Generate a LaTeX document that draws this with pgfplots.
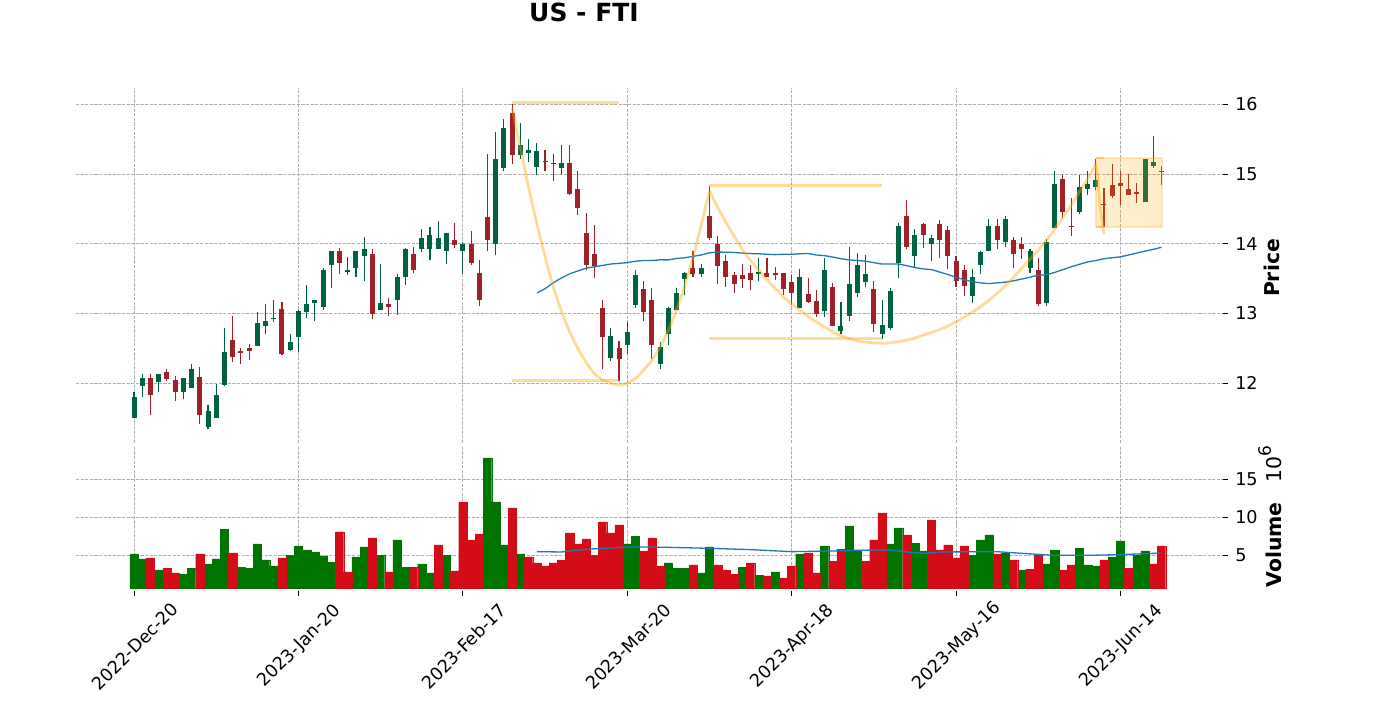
\documentclass[border=0pt]{standalone}
\usepackage{pgfplots}
\usepackage{pgfplotstable}
\usepackage{fontspec}
\setmainfont{DejaVu Sans}
\pgfplotsset{compat=1.18}
\definecolor{cup}{HTML}{A02128}
\definecolor{cdn}{HTML}{006340}
\definecolor{vup}{HTML}{007400}
\definecolor{vdn}{HTML}{D30C18}
\definecolor{ma}{HTML}{1F77B4}
\definecolor{gridc}{HTML}{B0B0B0}
\definecolor{patc}{HTML}{FFA500}
% green candles: i open high low close
\pgfplotstableread{
i open high low close
0 11.50 11.87 11.50 11.80
1 11.96 12.14 11.81 12.08
3 12.02 12.13 11.87 12.13
6 11.88 12.08 11.77 12.08
7 11.93 12.27 11.93 12.20
9 11.38 11.69 11.34 11.60
10 11.50 11.99 11.50 11.83
11 11.98 12.79 11.96 12.45
15 12.53 13.02 12.53 12.86
16 12.82 13.14 12.70 12.89
17 12.92 13.20 12.88 12.94
19 12.48 12.70 12.46 12.59
20 12.66 13.05 12.45 13.03
21 13.02 13.41 12.94 13.13
22 13.15 13.20 12.90 13.19
23 13.10 13.66 13.05 13.62
24 13.70 13.90 13.37 13.90
26 13.60 13.81 13.55 13.63
27 13.65 13.89 13.53 13.89
28 13.83 14.10 13.47 13.93
30 13.05 13.71 13.05 13.15
32 13.20 13.57 12.98 13.52
33 13.53 13.94 13.41 13.92
35 13.93 14.21 13.88 14.09
36 13.93 14.24 13.77 14.12
37 13.92 14.33 13.92 14.08
38 13.90 14.15 13.71 14.15
40 13.90 14.02 13.57 14.00
44 14.00 15.61 13.84 15.22
45 15.08 15.79 15.05 15.66
47 15.28 15.73 15.22 15.42
48 15.30 15.50 15.18 15.35
49 15.10 15.44 14.98 15.33
51 15.15 15.29 14.90 15.16
52 15.08 15.41 14.98 15.16
58 12.36 12.80 12.32 12.68
60 12.55 12.88 12.42 12.73
61 13.12 13.63 13.08 13.55
64 12.28 12.59 12.20 12.52
65 12.70 13.10 12.55 13.08
66 13.05 13.37 13.05 13.29
67 13.49 13.59 13.26 13.58
69 13.56 13.71 13.53 13.65
76 13.56 13.80 13.46 13.59
81 13.08 13.64 13.08 13.53
84 13.03 13.79 12.95 13.62
86 12.75 13.16 12.71 12.82
87 12.96 13.96 12.90 13.42
88 13.30 13.87 13.24 13.69
89 13.45 13.84 13.38 13.56
91 12.70 13.19 12.64 12.83
92 12.80 13.36 12.77 13.32
93 13.72 14.30 13.51 14.25
95 13.83 14.21 13.66 14.13
97 14.00 14.13 13.76 14.08
102 13.25 13.64 13.15 13.52
103 13.70 13.90 13.57 13.88
104 13.90 14.35 13.89 14.25
106 14.03 14.40 13.96 14.35
109 13.66 13.93 13.58 13.90
111 13.15 14.07 13.11 14.02
112 14.22 15.04 14.22 14.86
115 14.46 14.99 14.43 14.82
116 14.78 15.04 14.70 14.86
117 14.82 15.21 14.77 14.92
123 14.60 15.22 14.60 15.21
124 15.11 15.54 15.09 15.17
}\greencandles
% red candles: i open high low close
\pgfplotstableread{
i open high low close
2 12.08 12.13 11.54 11.83
4 12.16 12.21 12.04 12.06
5 12.05 12.10 11.74 11.88
8 12.09 12.23 11.42 11.55
12 12.62 12.96 12.31 12.38
13 12.46 12.50 12.27 12.43
14 12.50 12.57 12.34 12.46
18 13.06 13.16 12.40 12.42
25 13.90 13.94 13.57 13.73
29 13.85 13.93 12.92 13.00
31 13.13 13.23 12.97 13.09
34 13.86 13.96 13.58 13.63
39 14.06 14.30 13.94 13.99
41 14.00 14.19 13.70 13.73
42 13.58 13.77 13.11 13.20
43 14.38 15.29 13.90 14.05
46 15.88 16.01 15.15 15.28
50 15.19 15.34 15.05 15.18
53 15.16 15.41 14.70 14.72
54 14.79 15.04 14.42 14.52
55 14.15 14.44 13.63 13.70
56 13.85 14.27 13.51 13.68
57 13.08 13.20 12.20 12.66
59 12.50 12.60 12.04 12.35
62 13.35 13.47 12.90 13.02
63 13.19 13.36 12.35 12.55
68 13.65 13.89 13.52 13.56
70 14.40 14.83 14.06 14.09
71 14.00 14.11 13.42 13.68
72 13.76 13.84 13.38 13.53
73 13.55 13.59 13.30 13.42
74 13.55 13.71 13.37 13.50
75 13.58 13.69 13.34 13.48
77 13.58 13.79 13.53 13.53
78 13.58 13.67 13.48 13.55
79 13.58 13.58 13.26 13.35
80 13.45 13.55 13.12 13.30
82 13.28 13.51 13.15 13.16
83 13.18 13.34 12.95 13.00
85 13.38 13.44 12.82 12.82
90 13.35 13.46 12.74 12.85
94 14.40 14.63 13.92 13.96
96 14.28 14.30 13.94 14.13
98 14.29 14.34 13.80 14.06
99 14.20 14.26 13.64 13.83
100 13.75 13.83 13.38 13.46
101 13.62 13.69 13.25 13.40
105 14.26 14.36 13.92 14.06
107 14.05 14.10 13.66 13.86
108 14.00 14.10 13.78 13.92
110 13.62 13.79 13.11 13.13
113 14.93 14.99 14.37 14.45
114 14.26 14.66 14.11 14.25
118 14.57 14.80 14.24 14.56
119 14.84 15.15 14.66 14.69
120 14.87 15.04 14.56 14.83
121 14.79 15.00 14.70 14.70
122 14.74 14.87 14.59 14.72
125 15.04 15.11 14.84 15.03
}\redcandles
\pgfplotsset{
  panel/.style={
    scale only axis, width=573.5pt,
    xmin=-7.06, xmax=132.48,
    xtick={0,20,40,60,80,100,120},
    grid=major,
    grid style={gridc, line width=0.35pt, dash pattern=on 1.6pt off 0.7pt},
    axis line style={draw=none},
    tick align=outside,
    ytick pos=right, yticklabel pos=right,
    xtick pos=bottom,
    major tick length=2.6pt,
    tick style={black, line width=0.5pt},
    /pgf/number format/assume math mode=true,
    every tick label/.append style={font=\fontsize{8.8}{11}\selectfont},
    clip=false,
  },
  wick/.style={draw=none, mark=none, forget plot,
    error bars/.cd, y dir=plus, y explicit, error mark=none,
    error bar style={draw=#1, solid, line width=0.55pt}},
  body/.style={draw=none, mark=none, forget plot,
    error bars/.cd, y dir=plus, y explicit, error mark=none,
    error bar style={draw=#1, solid, line width=2.5pt}},
  pat/.style={patc, opacity=0.4, line width=1.4pt, mark=none, line join=round, forget plot},
  mal/.style={ma, line width=0.65pt, mark=none, smooth, tension=0.3, forget plot},
}
\begin{document}
\begin{tikzpicture}[x=1pt,y=1pt]
\path[use as bounding box] (0,0) rectangle (690,359);
\begin{axis}[panel,
  at={(38pt,137.5pt)}, anchor=south west, height=177.5pt,
  ymin=11.144, ymax=16.234,
  ytick={12,13,14,15,16},
  xticklabels={},
  xtick style={draw=none},
]
\addplot[wick=cdn] table[x=i,y=low,y error plus expr=\thisrow{high}-\thisrow{low}] {\greencandles};
\addplot[body=cdn] table[x=i,y=open,y error plus expr=\thisrow{close}-\thisrow{open}] {\greencandles};
\addplot[wick=cup] table[x=i,y=low,y error plus expr=\thisrow{high}-\thisrow{low}] {\redcandles};
\addplot[body=cup] table[x=i,y=close,y error plus expr=\thisrow{open}-\thisrow{close}] {\redcandles};
% moving average
\addplot[mal] coordinates {
(49,13.295)(50,13.357)(51,13.44)(52,13.51)(53,13.57)(54,13.61)(55,13.65)(56,13.67)(57,13.69)(58,13.71)
(59,13.72)(60,13.73)(61,13.75)(62,13.76)(63,13.76)(64,13.77)(65,13.77)(66,13.79)(67,13.80)(68,13.82)
(69,13.84)(70,13.87)(71,13.88)(72,13.88)(73,13.876)(74,13.867)(75,13.86)(76,13.857)(77,13.85)(78,13.845)
(79,13.85)(80,13.85)(81,13.857)(82,13.86)(83,13.84)(84,13.83)(85,13.81)(86,13.786)(87,13.77)(88,13.76)
(89,13.75)(90,13.73)(91,13.71)(92,13.71)(93,13.71)(94,13.686)(95,13.66)(96,13.64)(97,13.63)(98,13.595)
(99,13.56)(100,13.52)(101,13.486)(102,13.457)(103,13.44)(104,13.43)(105,13.44)(106,13.45)(107,13.47)(108,13.495)
(109,13.52)(110,13.55)(111,13.557)(112,13.59)(113,13.63)(114,13.67)(115,13.705)(116,13.74)(117,13.76)(118,13.786)
(119,13.80)(120,13.814)(121,13.84)(122,13.867)(123,13.895)(124,13.92)(125,13.95)};
% pattern rectangle
\addplot[draw=patc, draw opacity=0.25, line width=1pt, fill=patc, fill opacity=0.2, mark=none, forget plot] coordinates {
(117,14.24)(125,14.24)(125,15.23)(117,15.23)(117,14.24)};
% pattern levels
\addplot[pat] coordinates {(46,16.03)(59,16.03)};
\addplot[pat] coordinates {(46,12.04)(59,12.04)};
\addplot[pat] coordinates {(70,14.84)(91,14.84)};
\addplot[pat] coordinates {(70,12.645)(91,12.645)};
\addplot[pat] coordinates {(117,15.23)(118,15.23)};
\addplot[pat] coordinates {(117,14.24)(118,14.24)};
% pattern curves
\addplot[pat, smooth, tension=0.5] coordinates {
(46,15.95)(47,15.38)(48,14.81)(49,14.29)(50,13.82)(51,13.39)(52,13.03)(53,12.74)(54,12.50)(55,12.30)
(56,12.14)(57,12.05)(58,12.00)(59,11.976)(60,12.00)(61,12.07)(62,12.19)(63,12.33)(64,12.52)(65,12.76)
(66,13.05)(67,13.40)(68,13.81)(69,14.27)(70,14.76)};
\addplot[pat, smooth, tension=0.5] coordinates {
(70,14.76)(71,14.52)(72,14.31)(73,14.11)(74,13.92)(75,13.76)(76,13.62)(77,13.48)(78,13.36)(79,13.24)(80,13.14)
(81,13.05)(82,12.96)(83,12.88)(84,12.81)(85,12.74)(86,12.68)(87,12.64)(88,12.61)(89,12.59)(90,12.58)
(91,12.575)(92,12.58)(93,12.60)(94,12.62)(95,12.65)(96,12.69)(97,12.73)(98,12.77)(99,12.82)(100,12.88)
(101,12.95)(102,13.02)(103,13.10)(104,13.19)(105,13.29)(106,13.40)(107,13.52)(108,13.65)(109,13.78)(110,13.91)
(111,14.05)(112,14.21)(113,14.38)(114,14.55)(115,14.74)(116,14.93)(117,15.14)};
\addplot[pat] coordinates {(117,15.14)(117.3,14.90)(117.5,14.55)(118,14.14)};
\end{axis}
\begin{axis}[panel,
  at={(38pt,65pt)}, anchor=south west, height=70.5pt,
  ymin=0.70, ymax=19.25,
  ytick={5,10,15},
  xticklabels={2022-Dec-20,2023-Jan-20,2023-Feb-17,2023-Mar-20,2023-Apr-18,2023-May-16,2023-Jun-14},
  xticklabel style={rotate=45, anchor=center, xshift=-18.4pt, yshift=-19.1pt},
  xtick style={yshift=-1.5pt},
  ybar, bar width=1, bar shift=0pt, clip=true,
]
\addplot[fill=vup, draw=vup, line width=0.1pt, forget plot] coordinates {
(0,5.18)(1,4.52)(3,3.07)(6,2.54)(7,3.33)(9,3.86)(10,4.52)(11,8.46)(13,3.46)(14,3.33)(15,6.49)(16,4.39)(17,3.60)
(19,5.04)(20,6.23)(21,5.70)(22,5.44)(23,4.91)(24,4.12)(27,4.78)(28,6.10)(30,5.04)(32,7.02)(33,3.46)(35,3.86)(36,2.68)
(38,5.04)(43,17.81)(44,12.02)(45,6.36)(47,5.18)(60,6.49)(61,7.54)(65,3.99)(66,3.33)(67,3.33)(69,2.68)(70,6.10)
(74,3.46)(76,2.41)(78,2.81)(81,5.18)(84,6.23)(87,8.86)(88,5.70)(92,6.49)(93,8.60)(95,6.62)(96,5.57)(102,5.04)
(103,7.02)(104,7.68)(106,5.31)(108,3.07)(111,3.86)(112,5.70)(115,5.96)(116,3.73)(117,3.60)(119,4.78)(120,6.89)
(122,5.04)(123,5.57)};
\addplot[fill=vdn, draw=vdn, line width=0.1pt, forget plot] coordinates {
(2,4.65)(4,3.33)(5,2.68)(8,5.18)(12,5.31)(18,4.65)(25,8.07)(26,2.81)(29,7.28)(31,2.81)(34,3.46)(37,6.36)(39,2.94)
(40,12.02)(41,7.02)(42,7.81)(46,11.23)(48,4.78)(49,3.99)(50,3.60)(51,3.99)(52,4.39)(53,7.94)(54,6.49)(55,7.15)
(56,5.04)(57,9.39)(58,7.94)(59,8.99)(62,5.57)(63,7.28)(64,3.60)(68,3.73)(71,3.73)(72,3.07)(73,2.54)(75,3.99)
(77,2.28)(79,2.02)(80,3.60)(82,5.31)(83,2.68)(85,4.25)(86,5.83)(89,4.25)(90,7.02)(91,10.57)(94,7.68)(97,9.65)
(98,5.70)(99,6.36)(100,4.65)(101,6.23)(105,5.18)(107,4.39)(109,3.20)(110,5.04)(113,3.07)(114,3.73)(118,4.39)
(121,3.33)(124,3.86)(125,6.23)};
\addplot[mal, sharp plot] coordinates {
(49,5.48)(52,5.44)(55,5.80)(58,5.96)(60,6.10)(62,6.10)(65,6.05)(70,5.92)(75,5.75)(80,5.48)(85,5.57)(90,5.70)
(92,5.70)(94,5.44)(96,5.26)(98,5.44)(105,5.48)(108,5.26)(112,5.00)(116,5.00)(120,5.09)(125,5.30)};
\end{axis}
\node[rotate=90, anchor=base, font=\fontsize{10.2}{12}\selectfont\bfseries] at (639.5,225) {Price};
\node[rotate=90, anchor=base west, inner sep=0pt, font=\fontsize{10.2}{12}\selectfont] at (640.5,65) {\textbf{Volume}\ \ \ 10\raisebox{0.5em}{\fontsize{8.5}{9}\selectfont 6}};
\node[anchor=base, inner sep=0pt, font=\fontsize{12.5}{15}\selectfont\bfseries] at (292,348) {US - FTI};
\end{tikzpicture}
\end{document}
